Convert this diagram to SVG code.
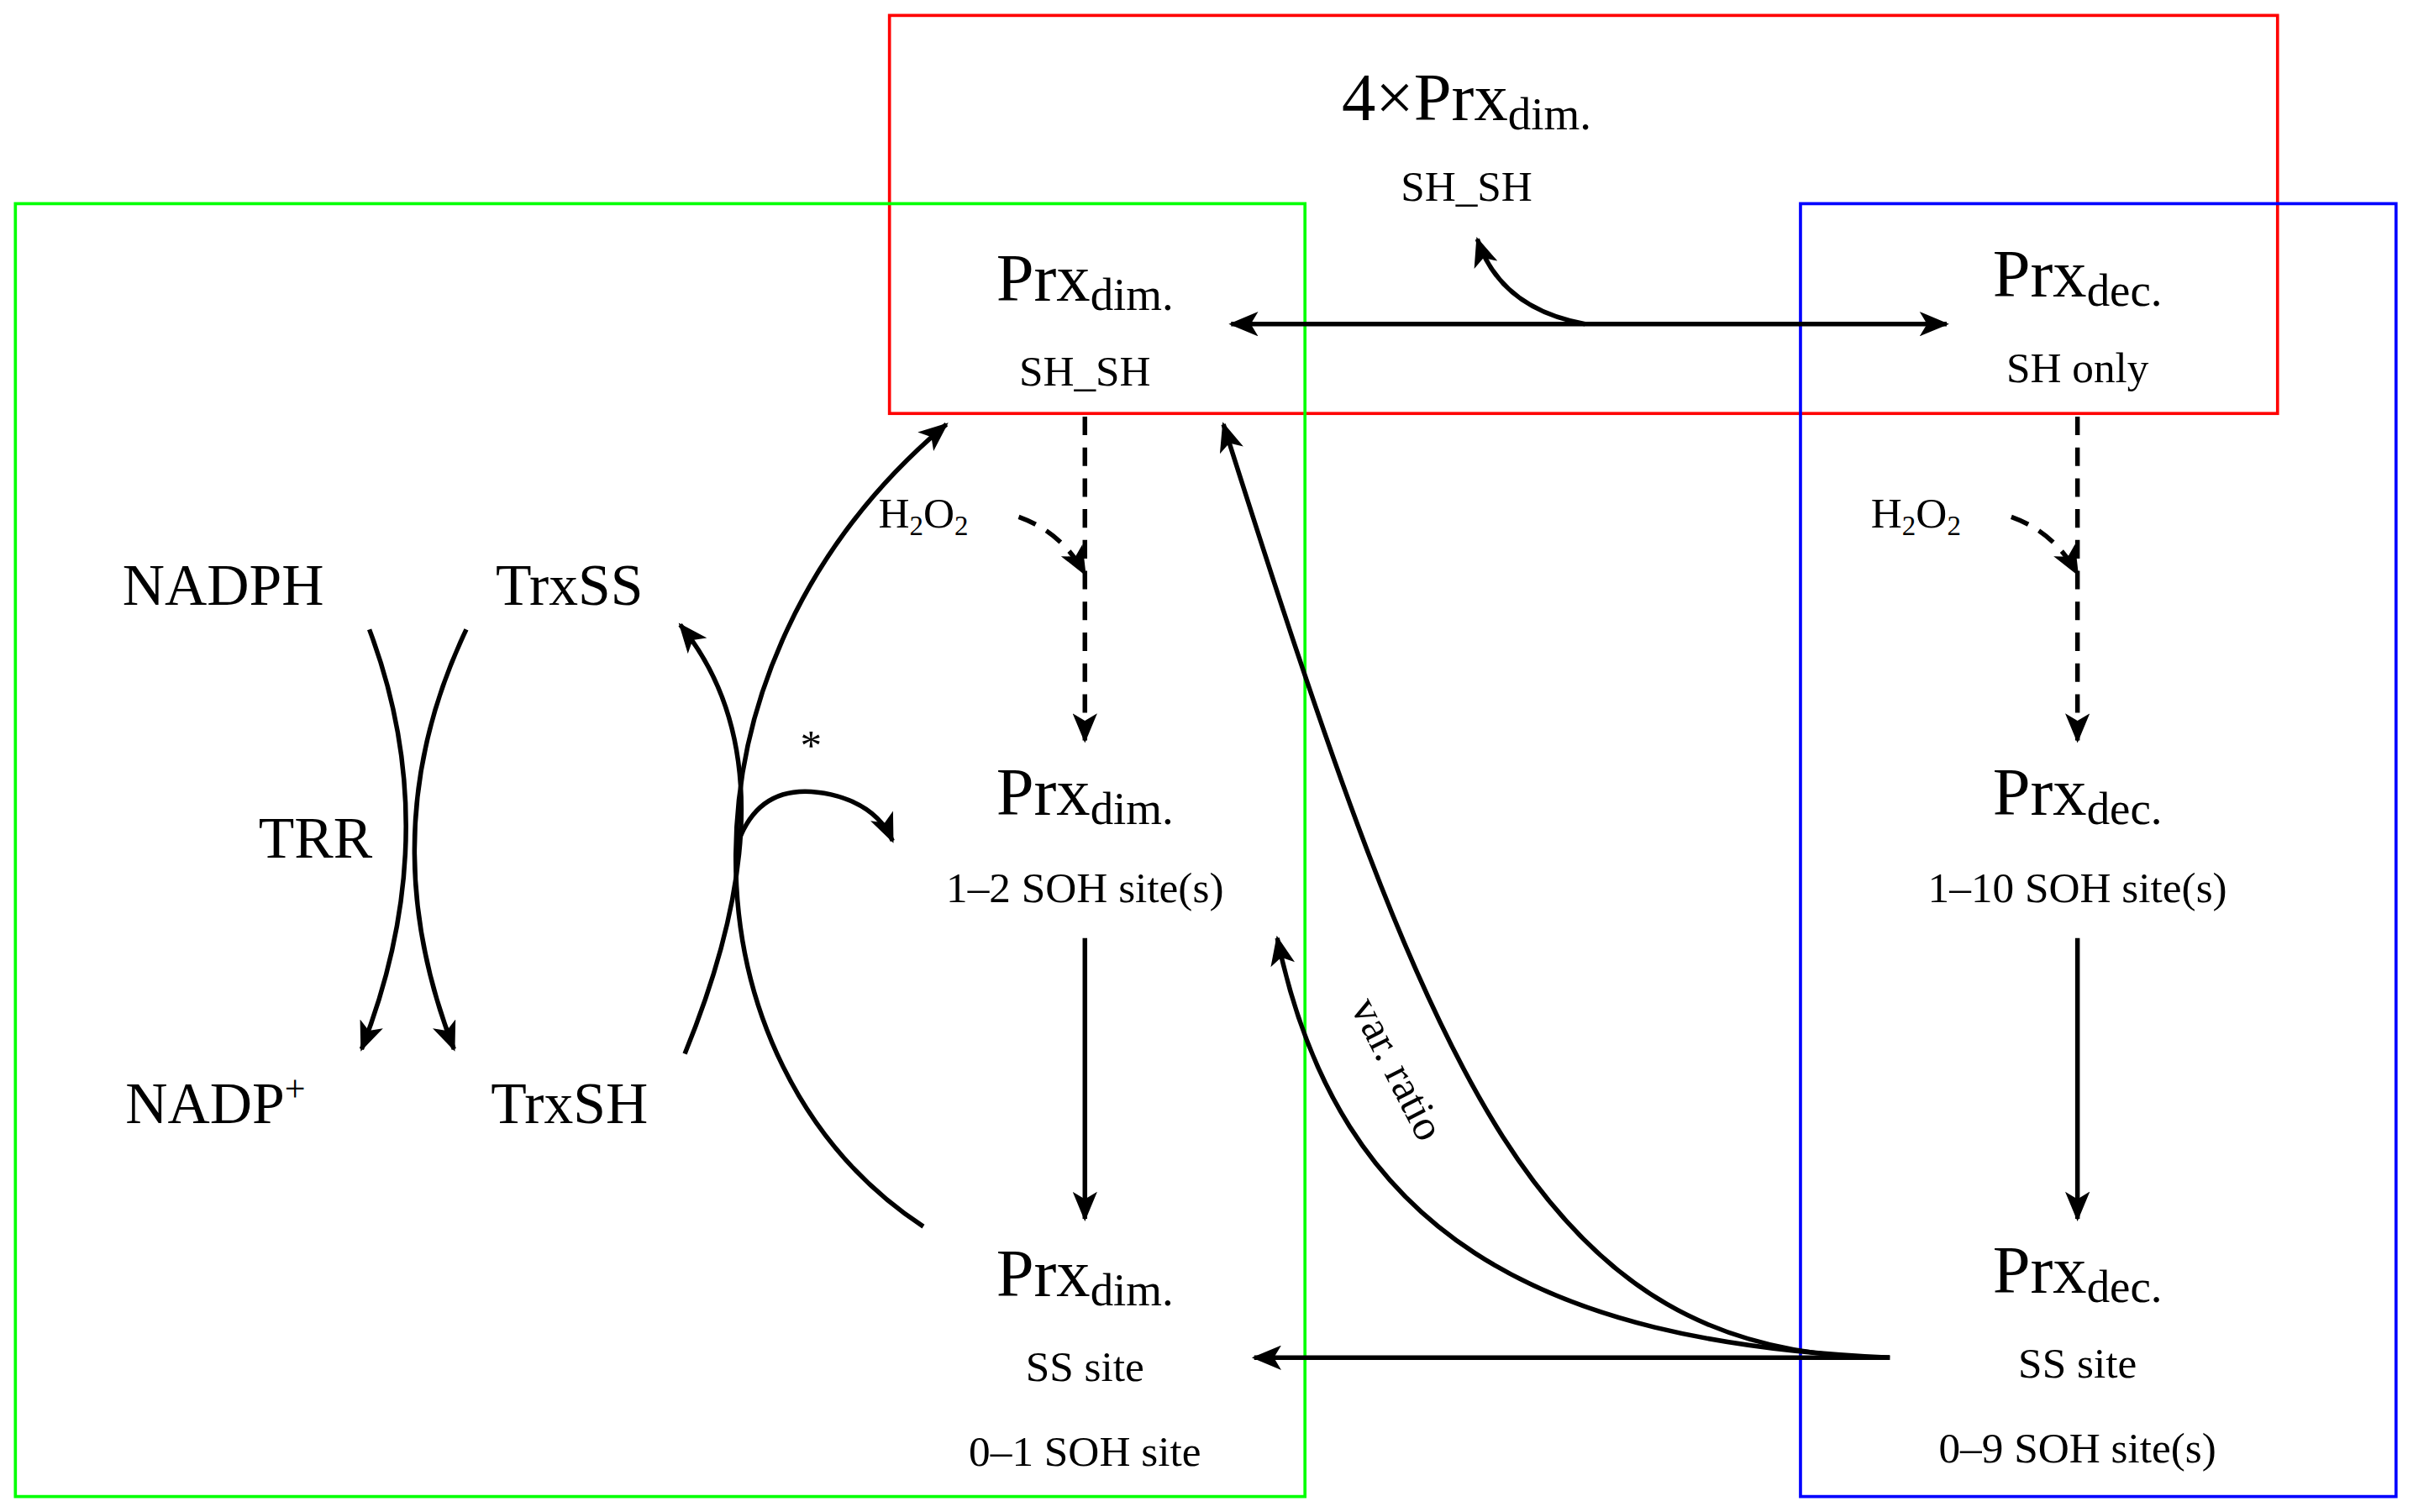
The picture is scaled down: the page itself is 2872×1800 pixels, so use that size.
<svg xmlns="http://www.w3.org/2000/svg" width="2872" height="1800" viewBox="0 0 2872 1800">
<style>
text{font-family:"Liberation Serif","DejaVu Serif",serif;fill:#000;text-anchor:middle}
.big{font-size:44px}.sub{font-size:30px}.lab{font-size:28px}.mid{font-size:38px}
.c{fill:none;stroke:#000;stroke-width:3}
.d{stroke-dasharray:12 8}
</style>
<defs><marker id="a" viewBox="0 0 12 10" refX="11" refY="5" markerWidth="7" markerHeight="6" orient="auto-start-reverse" markerUnits="userSpaceOnUse"><path d="M0,0 L12,5 L0,10 L3,5Z" fill="#000"/></marker>
<marker id="m" viewBox="0 0 12 10" refX="11" refY="5" markerWidth="20" markerHeight="16" orient="auto-start-reverse" markerUnits="userSpaceOnUse"><path d="M0,0 L12,5 L0,10 L3,5Z" fill="#000"/></marker></defs>
<rect width="2872" height="1800" fill="#fff"/>
<g transform="scale(1.8316 1.8367)">
<g id="boxes" fill="none" stroke-width="2">
<rect x="578" y="10" width="902" height="258" stroke="#f00"/>
<rect x="10" y="132" width="838" height="838" stroke="#0f0"/>
<rect x="1170" y="132" width="387" height="838" stroke="#00f"/>
</g>
<g id="connectors">
<path class="c" d="M800,210 L1265,210" marker-start="url(#m)" marker-end="url(#m)"/>
<path class="c" d="M1030,210 Q975,200 960,155" marker-end="url(#m)"/>
<path class="c d" d="M705,270 L705,480" marker-end="url(#m)"/>
<path class="c d" d="M662,335 Q690,345 705,372" marker-end="url(#m)"/>
<path class="c d" d="M1350,270 L1350,480" marker-end="url(#m)"/>
<path class="c d" d="M1307,335 Q1335,345 1350,372" marker-end="url(#m)"/>
<path class="c" d="M705,608 L705,790" marker-end="url(#m)"/>
<path class="c" d="M1350,608 L1350,790" marker-end="url(#m)"/>
<path class="c" d="M1228,880 L815,880" marker-end="url(#m)"/>
<path class="c" d="M1228,880 C1000,880 930,700 795,275" marker-end="url(#m)"/>
<path class="c" d="M1228,880 C1000,870 870,800 830,608" marker-end="url(#m)"/>
<path class="c" d="M240,408 Q290,540 235,680" marker-end="url(#m)"/>
<path class="c" d="M303,408 Q240,540 295,680" marker-end="url(#m)"/>
<path class="c" d="M445,683 Q520,500 442,405" marker-end="url(#m)"/>
<path class="c" d="M600,795 C440,690 430,430 615,275" marker-end="url(#m)"/>
<path class="c" d="M480,545 Q495,505 540,515 Q570,522 580,545" marker-end="url(#m)"/>
</g>
<g id="n4"><text x="953" y="78" class="big">4×Prx<tspan class="sub" dy="6">dim.</tspan></text><text x="953" y="130" class="lab">SH_SH</text></g>
<g id="n1"><text x="705" y="195" class="big">Prx<tspan class="sub" dy="6">dim.</tspan></text><text x="705" y="250" class="lab">SH_SH</text></g>
<g id="n2"><text x="1350" y="192" class="big">Prx<tspan class="sub" dy="6">dec.</tspan></text><text x="1350" y="248" class="lab">SH only</text></g>
<g id="n3"><text x="705" y="528" class="big">Prx<tspan class="sub" dy="6">dim.</tspan></text><text x="705" y="585" class="lab">1–2 SOH site(s)</text></g>
<g id="n5"><text x="1350" y="528" class="big">Prx<tspan class="sub" dy="6">dec.</tspan></text><text x="1350" y="585" class="lab">1–10 SOH site(s)</text></g>
<g id="n6"><text x="705" y="840" class="big">Prx<tspan class="sub" dy="6">dim.</tspan></text><text x="705" y="895" class="lab">SS site</text><text x="705" y="950" class="lab">0–1 SOH site</text></g>
<g id="n7"><text x="1350" y="838" class="big">Prx<tspan class="sub" dy="6">dec.</tspan></text><text x="1350" y="893" class="lab">SS site</text><text x="1350" y="948" class="lab">0–9 SOH site(s)</text></g>
<g id="n8"><text x="145" y="392" class="mid">NADPH</text></g>
<g id="n9"><text x="370" y="392" class="mid">TrxSS</text></g>
<g id="n10"><text x="205" y="556" class="mid">TRR</text></g>
<g id="n11"><text x="140" y="728" class="mid">NADP<tspan font-size="24" dy="-14">+</tspan></text></g>
<g id="n12"><text x="370" y="728" class="mid">TrxSH</text></g>
<text x="527" y="492" class="lab">*</text>
<text x="600" y="342" class="lab">H<tspan font-size="18" dy="5">2</tspan><tspan dy="-5">O</tspan><tspan font-size="18" dy="5">2</tspan></text>
<text x="1245" y="342" class="lab">H<tspan font-size="18" dy="5">2</tspan><tspan dy="-5">O</tspan><tspan font-size="18" dy="5">2</tspan></text>
<text class="lab" transform="translate(900,697) rotate(63)" font-size="32">var. ratio</text>
</g>
</svg>
